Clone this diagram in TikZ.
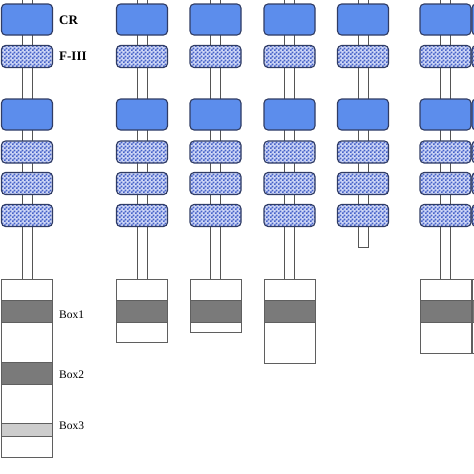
\documentclass[tikz,border=0pt]{standalone}
\usepackage{fontspec}
\setmainfont{Liberation Serif}
\usetikzlibrary{patterns}
\pgfdeclarepatternformonly{finechk}{\pgfpointorigin}{\pgfqpoint{3.6pt}{3.6pt}}{\pgfqpoint{3.6pt}{3.6pt}}{%
  \pgfpathrectangle{\pgfpointorigin}{\pgfqpoint{1.8pt}{1.8pt}}%
  \pgfpathrectangle{\pgfqpoint{1.8pt}{1.8pt}}{\pgfqpoint{1.8pt}{1.8pt}}%
  \pgfusepath{fill}}
\definecolor{crblue}{RGB}{92,141,236}
\definecolor{edgeblue}{RGB}{48,60,100}
\definecolor{chkdark}{RGB}{70,98,200}
\definecolor{chklight}{RGB}{205,214,246}
\definecolor{stalkgray}{RGB}{85,85,85}
\definecolor{banddark}{RGB}{122,122,122}
\definecolor{bandlight}{RGB}{205,205,205}
\definecolor{basegray}{RGB}{95,95,95}
\begin{document}
\begin{tikzpicture}[x=1pt,y=-1pt,
  crbox/.style={draw=edgeblue, line width=1.1pt, fill=crblue, rounded corners=4pt,
    minimum width=51pt, minimum height=31pt, inner sep=0pt},
  fbox/.style={draw=edgeblue, line width=1.1pt, rounded corners=4pt,
    preaction={fill=chklight}, pattern=finechk, pattern color=chkdark,
    minimum width=51pt, minimum height=22pt, inner sep=0pt},
  stalk/.style={draw=stalkgray, line width=0.9pt},
  basebox/.style={draw=basegray, line width=1pt, fill=white, minimum width=51pt,
    inner sep=0pt, anchor=north},
  band/.style={draw=basegray, line width=0.8pt, fill=banddark, minimum width=51pt,
    minimum height=22pt, inner sep=0pt},
  lightband/.style={band, fill=bandlight, minimum height=13pt},
  boldlbl/.style={anchor=west, inner sep=0pt, font=\fontsize{13}{15}\selectfont\bfseries},
  boxlbl/.style={anchor=west, inner sep=0pt, font=\fontsize{11.5}{13}\selectfont}
]
\useasboundingbox (0,0) rectangle (474,474);
\clip (0,0) rectangle (474,474);
\fill[white] (0,0) rectangle (474,474);

% columns with a base box: name / centre x / base height
\foreach \c/\x/\h in {1/27/178, 2/142/63, 3/215.5/53, 4/289.5/84, 6/445.5/74, 7/497.5/74} {
  \coordinate (top\c) at (\x,-2);
  \node[basebox, minimum height=\h pt] (base\c) at (\x,279) {};
  \draw[stalk] ([xshift=-5pt]top\c) -- ([xshift=-5pt]base\c.north);
  \draw[stalk] ([xshift=5pt]top\c) -- ([xshift=5pt]base\c.north);
  \node[band] (bandA\c) at (\x,311) {};
}
% column 5: stalk ends closed, no base box
\coordinate (top5) at (363.5,-2);
\coordinate (end5) at (363.5,247);
\draw[stalk] ([xshift=-5pt]top5) -- ([xshift=-5pt]end5) -- ([xshift=5pt]end5) -- ([xshift=5pt]top5);

% domains
\foreach \c/\x in {1/27, 2/142, 3/215.5, 4/289.5, 5/363, 6/445.5, 7/497.5} {
  \node[crbox] (crA\c) at (\x,19.5) {};
  \node[fbox]  (fA\c)  at (\x,56.5) {};
  \node[crbox] (crB\c) at (\x,114.5) {};
  \node[fbox]  (fB\c)  at (\x,152) {};
  \node[fbox]  (fC\c)  at (\x,183.5) {};
  \node[fbox]  (fD\c)  at (\x,215.5) {};
}

% extra bands of column 1
\node[band] (bandB1) at (27,373.5) {};
\node[lightband] (bandC1) at (27,429.5) {};

% labels
\node[boldlbl] (lcr) at (59,20.5) {CR};
\node[boldlbl] (lf) at (59,56) {F-III};
\node[boxlbl] (lb1) at (59,315) {Box1};
\node[boxlbl] (lb2) at (59,375) {Box2};
\node[boxlbl] (lb3) at (59,426) {Box3};
\end{tikzpicture}
\end{document}
